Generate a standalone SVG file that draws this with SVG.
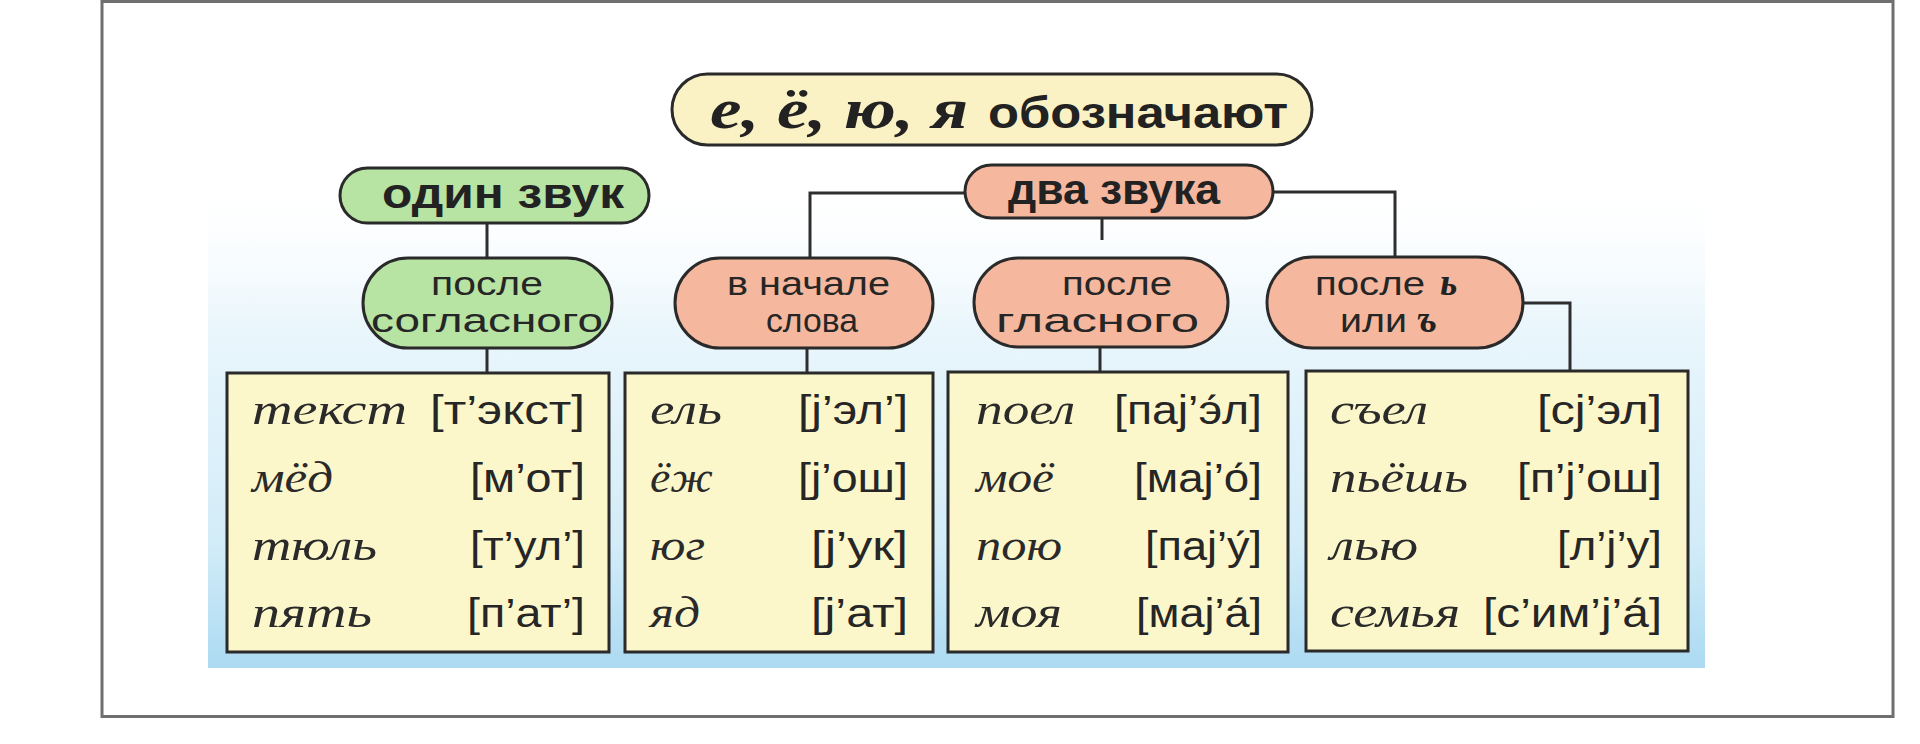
<svg xmlns="http://www.w3.org/2000/svg" width="1920" height="744" viewBox="0 0 1920 744">
<defs>
<linearGradient id="bg" x1="0" y1="0" x2="0" y2="1">
<stop offset="0" stop-color="#ffffff" stop-opacity="0"/>
<stop offset="0.3" stop-color="#eaf6fc"/>
<stop offset="0.75" stop-color="#d2ecf8"/>
<stop offset="1" stop-color="#acdaf2"/>
</linearGradient>
<style>
.frame{fill:#ffffff;stroke:#6f6f6f;stroke-width:3}
.nd{stroke:#2a2a2a;stroke-width:3}
.top{fill:#faf2c4}
.green{fill:#b7e3a3}
.pink{fill:#f5b89f}
.tbl{fill:#fcf7ca;stroke:#2a2a2a;stroke-width:3}
.conn path{fill:none;stroke:#2e2e2e;stroke-width:3}
.s{font-family:"Liberation Sans",Arial,sans-serif;fill:#262626}
.sb{font-family:"Liberation Sans",Arial,sans-serif;font-weight:bold;fill:#222}
.it{font-family:"Liberation Serif","Times New Roman",serif;font-style:italic;fill:#2a2a2a}
.bi{font-family:"Liberation Serif","Times New Roman",serif;font-style:italic;font-weight:bold;fill:#222}
.n{font-size:33px}
.w{font-size:44px}
.t{font-size:40px}
</style>
</defs>
<rect width="1920" height="744" fill="#ffffff"/>
<rect class="frame" x="102" y="1.5" width="1791" height="715"/>
<rect x="208" y="175" width="1497" height="493" fill="url(#bg)"/>

<g class="conn">
<path d="M487,223 V258"/>
<path d="M487,348 V373"/>
<path d="M965,193 H810 V258"/>
<path d="M1102,218 V240"/>
<path d="M1273,192 H1395 V257"/>
<path d="M807,348 V373"/>
<path d="M1100,347 V372"/>
<path d="M1523,303 H1570 V371"/>
</g>

<g id="node-title">
<rect class="nd top" x="672" y="74" width="640" height="71" rx="35.5"/>
<text class="bi" x="710" y="128" font-size="58" textLength="258" lengthAdjust="spacingAndGlyphs">е, ё, ю, я</text>
<text class="sb" x="988" y="128" font-size="44" textLength="300" lengthAdjust="spacingAndGlyphs">обозначают</text>
</g>

<g id="node-odin">
<rect class="nd green" x="340" y="168" width="309" height="55" rx="27.5"/>
<text class="sb" x="382" y="208" font-size="42" textLength="242" lengthAdjust="spacingAndGlyphs">один звук</text>
</g>

<g id="node-dva">
<rect class="nd pink" x="965" y="165" width="308" height="53" rx="26.5"/>
<text class="sb" x="1008" y="204" font-size="42" textLength="212" lengthAdjust="spacingAndGlyphs">два звука</text>
</g>

<g id="node-sogl">
<rect class="nd green" x="363" y="258" width="249" height="90" rx="45"/>
<text class="s n" x="431" y="295" textLength="112" lengthAdjust="spacingAndGlyphs">после</text>
<text class="s n" x="371" y="332" textLength="232" lengthAdjust="spacingAndGlyphs">согласного</text>
</g>

<g id="node-nachale">
<rect class="nd pink" x="675" y="258" width="258" height="90" rx="45"/>
<text class="s n" x="727" y="295" textLength="163" lengthAdjust="spacingAndGlyphs">в начале</text>
<text class="s n" x="766" y="332" textLength="92" lengthAdjust="spacingAndGlyphs">слова</text>
</g>

<g id="node-glas">
<rect class="nd pink" x="974" y="258" width="254" height="89" rx="44.5"/>
<text class="s n" x="1062" y="295" textLength="110" lengthAdjust="spacingAndGlyphs">после</text>
<text class="s n" x="996" y="332" textLength="203" lengthAdjust="spacingAndGlyphs">гласного</text>
</g>

<g id="node-znak">
<rect class="nd pink" x="1267" y="257" width="256" height="91" rx="45.5"/>
<text class="s n" x="1315" y="295" textLength="110" lengthAdjust="spacingAndGlyphs">после</text>
<text class="bi" x="1440" y="295" font-size="38">ь</text>
<text class="s n" x="1340" y="332" textLength="67" lengthAdjust="spacingAndGlyphs">или</text>
<text class="bi" x="1417" y="332" font-size="38">ъ</text>
</g>

<g id="table-1">
<rect class="tbl" x="227" y="373" width="382" height="279"/>
<text class="it w" x="252" y="424" textLength="155" lengthAdjust="spacingAndGlyphs">текст</text>
<text class="s t" x="430" y="424" textLength="155" lengthAdjust="spacingAndGlyphs">[т’экст]</text>
<text class="it w" x="252" y="492" textLength="81" lengthAdjust="spacingAndGlyphs">мёд</text>
<text class="s t" x="470" y="492" textLength="115" lengthAdjust="spacingAndGlyphs">[м’от]</text>
<text class="it w" x="252" y="560" textLength="125" lengthAdjust="spacingAndGlyphs">тюль</text>
<text class="s t" x="470" y="560" textLength="115" lengthAdjust="spacingAndGlyphs">[т’ул’]</text>
<text class="it w" x="252" y="627" textLength="120" lengthAdjust="spacingAndGlyphs">пять</text>
<text class="s t" x="467" y="627" textLength="118" lengthAdjust="spacingAndGlyphs">[п’ат’]</text>
</g>

<g id="table-2">
<rect class="tbl" x="625" y="373" width="308" height="279"/>
<text class="it w" x="650" y="424" textLength="72" lengthAdjust="spacingAndGlyphs">ель</text>
<text class="s t" x="798" y="424" textLength="110" lengthAdjust="spacingAndGlyphs">[j’эл’]</text>
<text class="it w" x="650" y="492" textLength="63" lengthAdjust="spacingAndGlyphs">ёж</text>
<text class="s t" x="798" y="492" textLength="110" lengthAdjust="spacingAndGlyphs">[j’ош]</text>
<text class="it w" x="650" y="560" textLength="55" lengthAdjust="spacingAndGlyphs">юг</text>
<text class="s t" x="811" y="560" textLength="97" lengthAdjust="spacingAndGlyphs">[j’ук]</text>
<text class="it w" x="650" y="627" textLength="50" lengthAdjust="spacingAndGlyphs">яд</text>
<text class="s t" x="811" y="627" textLength="97" lengthAdjust="spacingAndGlyphs">[j’ат]</text>
</g>

<g id="table-3">
<rect class="tbl" x="948" y="372" width="340" height="280"/>
<text class="it w" x="976" y="424" textLength="99" lengthAdjust="spacingAndGlyphs">поел</text>
<text class="s t" x="1114" y="424" textLength="148" lengthAdjust="spacingAndGlyphs">[паj’э́л]</text>
<text class="it w" x="976" y="492" textLength="78" lengthAdjust="spacingAndGlyphs">моё</text>
<text class="s t" x="1134" y="492" textLength="128" lengthAdjust="spacingAndGlyphs">[маj’о́]</text>
<text class="it w" x="976" y="560" textLength="86" lengthAdjust="spacingAndGlyphs">пою</text>
<text class="s t" x="1145" y="560" textLength="117" lengthAdjust="spacingAndGlyphs">[паj’у́]</text>
<text class="it w" x="976" y="627" textLength="86" lengthAdjust="spacingAndGlyphs">моя</text>
<text class="s t" x="1136" y="627" textLength="126" lengthAdjust="spacingAndGlyphs">[маj’а́]</text>
</g>

<g id="table-4">
<rect class="tbl" x="1306" y="371" width="382" height="280"/>
<text class="it w" x="1330" y="424" textLength="98" lengthAdjust="spacingAndGlyphs">съел</text>
<text class="s t" x="1537" y="424" textLength="125" lengthAdjust="spacingAndGlyphs">[сj’эл]</text>
<text class="it w" x="1330" y="492" textLength="138" lengthAdjust="spacingAndGlyphs">пьёшь</text>
<text class="s t" x="1517" y="492" textLength="145" lengthAdjust="spacingAndGlyphs">[п’j’ош]</text>
<text class="it w" x="1330" y="560" textLength="88" lengthAdjust="spacingAndGlyphs">лью</text>
<text class="s t" x="1557" y="560" textLength="105" lengthAdjust="spacingAndGlyphs">[л’j’у]</text>
<text class="it w" x="1330" y="627" textLength="130" lengthAdjust="spacingAndGlyphs">семья</text>
<text class="s t" x="1483" y="627" textLength="179" lengthAdjust="spacingAndGlyphs">[с’им’j’а́]</text>
</g>
</svg>
